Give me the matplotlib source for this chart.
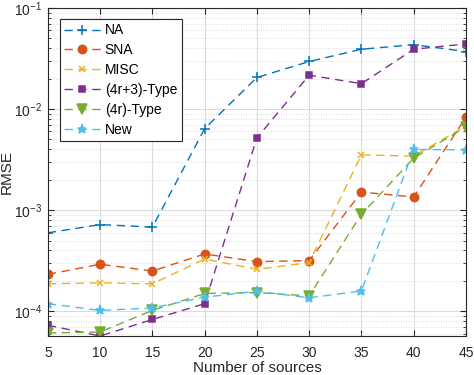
import matplotlib
matplotlib.use("Agg")
import matplotlib.pyplot as plt
from matplotlib.ticker import LogLocator, NullFormatter, MultipleLocator

plt.rcParams['font.family'] = ['Liberation Sans', 'DejaVu Sans']

x = [5, 10, 15, 20, 25, 30, 35, 40, 45]
na = [5.97e-4, 7.2e-4, 6.8e-4, 6.4e-3, 0.0205, 0.0295, 0.039, 0.0433, 0.037]
sna = [2.32e-4, 2.92e-4, 2.5e-4, 3.69e-4, 3.1e-4, 3.17e-4, 1.51e-3, 1.35e-3, 8.3e-3]
misc = [1.87e-4, 1.91e-4, 1.87e-4, 3.29e-4, 2.6e-4, 3.03e-4, 3.52e-3, 3.42e-3, 6.8e-3]
t4r3 = [7.28e-5, 5.7e-5, 8.3e-5, 1.19e-4, 5.18e-3, 0.0216, 0.0178, 0.039, 0.044]
t4r = [6.1e-5, 6.25e-5, 1.02e-4, 1.5e-4, 1.53e-4, 1.42e-4, 9.1e-4, 3.27e-3, 6.65e-3]
new = [1.19e-4, 1.02e-4, 1.08e-4, 1.38e-4, 1.58e-4, 1.36e-4, 1.59e-4, 3.98e-3, 3.95e-3]

labels = ['NA', 'SNA', 'MISC', '(4r+3)-Type', '(4r)-Type', 'New']
colors = ['#0072BD', '#D95319', '#EDB120', '#7E2F8E', '#77AC30', '#4DBEEE']
markers = ['+', 'o', 'x', 's', 'v', '*']
msizes = [7, 6, 5, 5, 6.5, 6.5]

fig = plt.figure(figsize=(4.74, 3.75), dpi=100)
ax = fig.add_axes([0.101, 0.104, 0.882, 0.875])

for ys, lab, c, m, ms in zip([na, sna, misc, t4r3, t4r, new], labels, colors, markers, msizes):
    ax.plot(x, ys, linestyle=(0, (6, 4)), color=c, marker=m, markersize=ms,
            markerfacecolor=c, markeredgecolor=c, linewidth=1.0, markeredgewidth=1.1,
            label=lab)

ax.set_yscale('log')
ax.set_xlim(5, 45)
ax.set_ylim(5.7e-5, 0.1)
ax.xaxis.set_major_locator(MultipleLocator(5))
ax.yaxis.set_major_locator(LogLocator(base=10, numticks=10))
ax.yaxis.set_minor_locator(LogLocator(base=10, subs=range(2, 10), numticks=20))
ax.yaxis.set_minor_formatter(NullFormatter())

ax.grid(True, which='major', color='#dcdcdc', linewidth=0.8, linestyle='-')
ax.grid(True, which='minor', axis='y', color='#d0d0d0', linewidth=0.6, linestyle=(0, (1, 2)))
ax.set_axisbelow(True)

ax.tick_params(which='both', direction='in', top=True, right=True, labelsize=10, colors='#262626')
ax.tick_params(axis='x', which='major', length=4, pad=7)
ax.tick_params(axis='y', which='major', length=4, pad=4)
ax.tick_params(which='minor', length=2)
for s in ax.spines.values():
    s.set_color('#262626')
    s.set_linewidth(0.8)

ax.set_xlabel('Number of sources', fontsize=11, color='#262626', labelpad=1)
ax.set_ylabel('RMSE', fontsize=11, color='#262626', labelpad=0)

leg = ax.legend(loc='upper left', bbox_to_anchor=(0.018, 0.98), fontsize=10,
                handlelength=2.6, fancybox=False, framealpha=1, edgecolor='#262626',
                borderpad=0.35, labelspacing=0.42, handletextpad=0.3, borderaxespad=0.3)
leg.get_frame().set_linewidth(0.8)

fig.savefig('out.png', dpi=100)
